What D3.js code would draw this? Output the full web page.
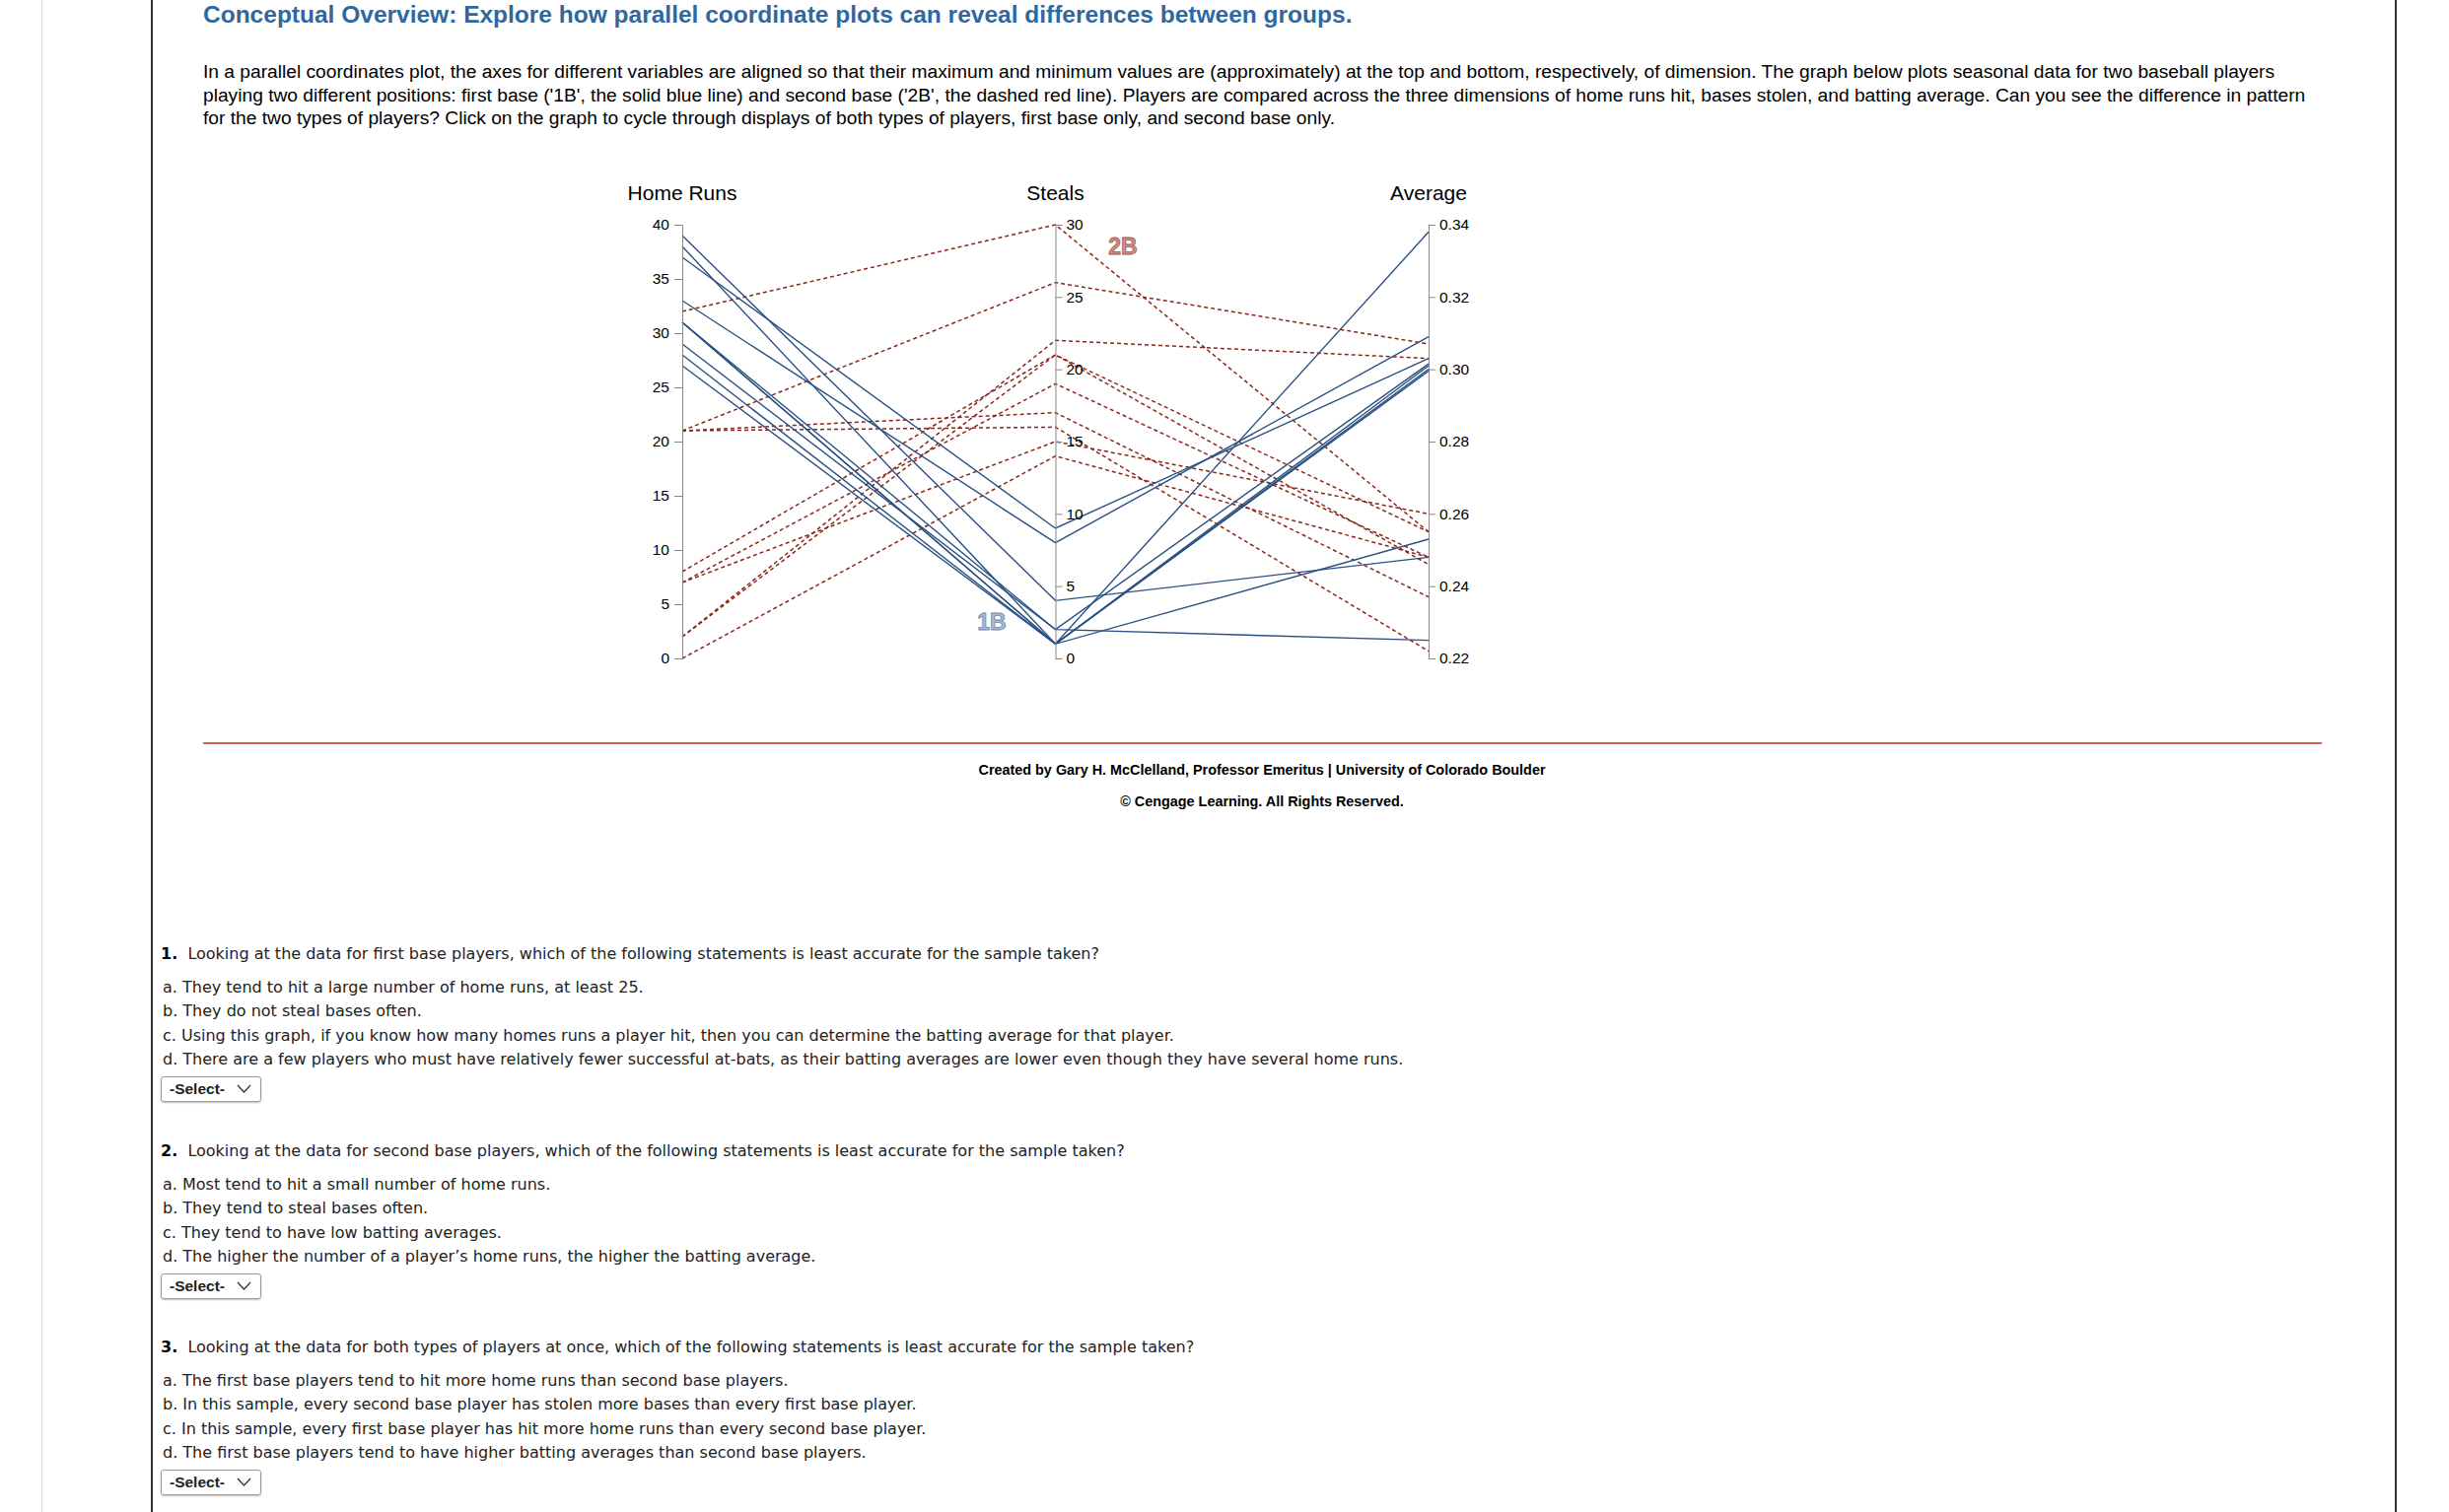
<!DOCTYPE html>
<html><head><meta charset="utf-8">
<script src="https://cdn.jsdelivr.net/npm/d3@7"></script>
<style>
html,body{margin:0;padding:0;background:#fff;width:2484px;height:1534px;overflow:hidden;position:relative;font-family:"Liberation Sans",Arial,sans-serif;}
.abs{position:absolute;}
#title{left:206px;top:1px;font-size:24.5px;font-weight:bold;color:#30689e;white-space:nowrap;}
#intro{left:206px;top:61px;width:2200px;font-size:19.2px;line-height:23.7px;color:#000;white-space:nowrap;}
.foot{left:0;width:2560px;text-align:center;font-size:14.4px;font-weight:bold;color:#000;}
.q{font-family:"DejaVu Sans",Verdana,sans-serif;font-size:16px;color:#222;white-space:nowrap;}
.sel{width:100px;height:24px;border:1px solid #9a9a9a;border-radius:3px;box-shadow:0 1px 2px rgba(0,0,0,.25);font-family:"Liberation Sans",Arial,sans-serif;font-size:15.5px;font-weight:bold;line-height:24px;color:#222;}
</style></head>
<body>
<div class="abs" style="left:42px;top:0;width:1px;height:1534px;background:#dedede"></div>
<div class="abs" style="left:153px;top:0;width:2px;height:1534px;background:#333"></div>
<div class="abs" style="left:2429px;top:0;width:2px;height:1534px;background:#333"></div>
<div id="title" class="abs">Conceptual Overview: Explore how parallel coordinate plots can reveal differences between groups.</div>
<div id="intro" class="abs">In a parallel coordinates plot, the axes for different variables are aligned so that their maximum and minimum values are (approximately) at the top and bottom, respectively, of dimension. The graph below plots seasonal data for two baseball players<br>playing two different positions: first base ('1B', the solid blue line) and second base ('2B', the dashed red line). Players are compared across the three dimensions of home runs hit, bases stolen, and batting average. Can you see the difference in pattern<br>for the two types of players? Click on the graph to cycle through displays of both types of players, first base only, and second base only.</div>
<svg id="chart" class="abs" style="left:600px;top:170px" width="950" height="530"></svg>
<div class="abs" style="left:206px;top:753px;width:2149px;height:2px;background:#c4694f"></div>
<div class="abs foot" style="top:773px;">Created by Gary H. McClelland, Professor Emeritus | University of Colorado Boulder</div>
<div class="abs foot" style="top:805px;">© Cengage Learning. All Rights Reserved.</div>
<div id="qs"></div>
<script>
// ---------------- data ----------------
const dims = ["Home Runs", "Steals", "Average"];
const hrTicks = [0, 5, 10, 15, 20, 25, 30, 35, 40];
const stealTicks = [0, 5, 10, 15, 20, 25, 30];
const avgTicks = [0.22, 0.24, 0.26, 0.28, 0.30, 0.32, 0.34];
// first base (1B)
const firstHR     = [39, 38, 37, 33, 31, 31, 31, 29, 28, 27];
const firstSteals = [4, 1, 9, 8, 2, 1, 1, 2, 1, 1];
const firstAvg    = [0.248, 0.338, 0.303, 0.309, 0.225, 0.253, 0.301, 0.3015, 0.2995, 0.300];
// second base (2B)
const secondHR     = [32, 21, 21, 21, 8, 7, 7, 2, 2, 0];
const secondSteals = [30, 26, 17, 16, 21, 19, 15, 22, 21, 14];
const secondAvg    = [0.255, 0.307, 0.237, 0.222, 0.255, 0.248, 0.260, 0.303, 0.246, 0.248];

const questions = [
 {n:"1.", q:"Looking at the data for first base players, which of the following statements is least accurate for the sample taken?",
  o:["a. They tend to hit a large number of home runs, at least 25.",
     "b. They do not steal bases often.",
     "c. Using this graph, if you know how many homes runs a player hit, then you can determine the batting average for that player.",
     "d. There are a few players who must have relatively fewer successful at-bats, as their batting averages are lower even though they have several home runs."]},
 {n:"2.", q:"Looking at the data for second base players, which of the following statements is least accurate for the sample taken?",
  o:["a. Most tend to hit a small number of home runs.",
     "b. They tend to steal bases often.",
     "c. They tend to have low batting averages.",
     "d. The higher the number of a player’s home runs, the higher the batting average."]},
 {n:"3.", q:"Looking at the data for both types of players at once, which of the following statements is least accurate for the sample taken?",
  o:["a. The first base players tend to hit more home runs than second base players.",
     "b. In this sample, every second base player has stolen more bases than every first base player.",
     "c. In this sample, every first base player has hit more home runs than every second base player.",
     "d. The first base players tend to have higher batting averages than second base players."]}
];

// ---------------- chart ----------------
const svg = d3.select("#chart");
const x = d3.scalePoint().domain(dims).range([92, 849]);
const yTop = 58, yBot = 498;
const y = {
  "Home Runs": d3.scaleLinear().domain([0, 40]).range([yBot, yTop]),
  "Steals": d3.scaleLinear().domain([0, 30]).range([yBot, yTop]),
  "Average": d3.scaleLinear().domain([0.22, 0.34]).range([yBot, yTop])
};
const rows = (hr, st, av) => hr.map((h, i) => ({"Home Runs": h, "Steals": st[i], "Average": av[i]}));
const first = rows(firstHR, firstSteals, firstAvg);
const second = rows(secondHR, secondSteals, secondAvg);
const line = d => d3.line()(dims.map(k => [x(k), y[k](d[k])]));

svg.append("g").selectAll("path").data(second).join("path")
  .attr("d", line).attr("fill", "none").attr("stroke", "#8c2618")
  .attr("stroke-width", 1.5).attr("stroke-dasharray", "4,3");
svg.append("g").selectAll("path").data(first).join("path")
  .attr("d", line).attr("fill", "none").attr("stroke", "#2a5184")
  .attr("stroke-width", 1.4);

const axes = {
  "Home Runs": d3.axisLeft(y["Home Runs"]).tickValues(hrTicks).tickSize(8).tickPadding(5),
  "Steals": d3.axisRight(y["Steals"]).tickValues(stealTicks).tickSize(7).tickPadding(4),
  "Average": d3.axisRight(y["Average"]).tickValues(avgTicks).tickFormat(d3.format(".2f")).tickSize(7).tickPadding(4)
};
dims.forEach(k => {
  const g = svg.append("g").attr("transform", `translate(${x(k)},0)`).call(axes[k]);
  g.selectAll("path,line").attr("stroke", "#888");
  g.selectAll("text").attr("font-family", "Liberation Sans, Arial, sans-serif").attr("font-size", 15.5).attr("fill", "#000");
  svg.append("text").attr("x", x(k)).attr("y", 33).attr("text-anchor", "middle")
    .attr("font-family", "Liberation Sans, Arial, sans-serif").attr("font-size", 21).text(k);
});
svg.append("text").attr("x", 406).attr("y", 469).attr("text-anchor", "middle")
  .attr("font-family", "Liberation Sans, Arial, sans-serif").attr("font-size", 23).attr("font-weight", "bold")
  .attr("fill", "#a9bcd2").attr("stroke", "#6f88aa").attr("stroke-width", 0.8).text("1B");
svg.append("text").attr("x", 539).attr("y", 88).attr("text-anchor", "middle")
  .attr("font-family", "Liberation Sans, Arial, sans-serif").attr("font-size", 23).attr("font-weight", "bold")
  .attr("fill", "#c99088").attr("stroke", "#a25a50").attr("stroke-width", 0.8).text("2B");

// ---------------- questions ----------------
const qs = d3.select("#qs");
const qTops = [958, 1158, 1357];
questions.forEach((Q, i) => {
  const t = qTops[i];
  qs.append("div").attr("class", "abs q").style("left", "163px").style("top", t + "px")
    .html(`<b style="color:#000">${Q.n}</b>&nbsp; ${Q.q}`);
  Q.o.forEach((o, j) => {
    qs.append("div").attr("class", "abs q").style("left", "165px").style("top", (t + 34 + j * 24.3) + "px").text(o);
  });
  const s = qs.append("div").attr("class", "abs sel").style("left", "163px").style("top", (t + 134) + "px");
  s.append("span").style("margin-left", "8px").text("-Select-");
  const c = s.append("svg").style("position", "absolute").style("left", "76px").style("top", "7px")
    .attr("width", 16).attr("height", 10);
  c.append("polyline").attr("points", "1,1 7.5,8 14,1").attr("fill", "none").attr("stroke", "#333").attr("stroke-width", 1.3);
});
</script>
</body></html>
